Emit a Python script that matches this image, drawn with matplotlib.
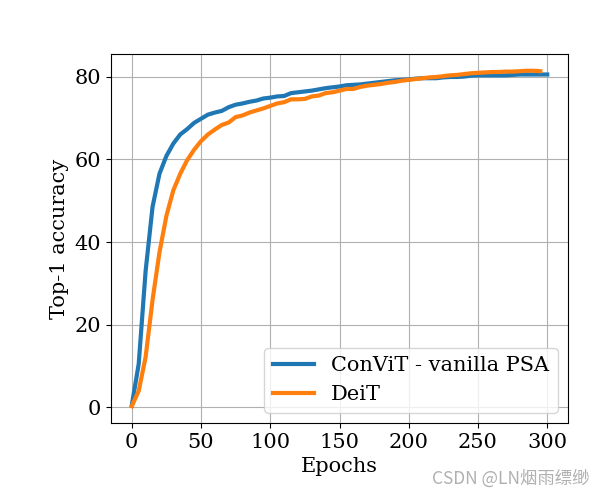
import matplotlib
matplotlib.use("Agg")
import matplotlib.pyplot as plt

plt.rcParams['font.family'] = 'DejaVu Serif'

epochs_convit = list(range(0, 301, 5))
acc_convit = [0.5, 10.5, 33.0, 48.5, 56.5, 60.8, 63.8, 66.0, 67.3, 68.8,
              69.8, 70.8, 71.3, 71.7, 72.6, 73.2, 73.5, 73.9, 74.2, 74.7,
              74.9, 75.2, 75.3, 76.0, 76.2, 76.4, 76.6, 76.9, 77.2, 77.4,
              77.6, 77.9, 78.0, 78.1, 78.3, 78.5, 78.7, 78.9, 79.1, 79.2,
              79.3, 79.5, 79.6, 79.6, 79.6, 79.8, 79.9, 79.9, 80.0, 80.2,
              80.3, 80.3, 80.3, 80.3, 80.3, 80.4, 80.5, 80.5, 80.5, 80.5,
              80.5]

epochs_deit = list(range(0, 296, 5))
acc_deit = [0.3, 4.0, 12.2, 26.0, 37.5, 46.3, 52.5, 56.5, 59.8, 62.3,
            64.4, 66.0, 67.2, 68.3, 68.9, 70.2, 70.6, 71.3, 71.8, 72.3,
            72.9, 73.5, 73.8, 74.5, 74.5, 74.6, 75.2, 75.4, 76.0, 76.2,
            76.6, 77.0, 77.0, 77.5, 77.8, 78.0, 78.2, 78.5, 78.7, 79.0,
            79.2, 79.4, 79.6, 79.8, 79.9, 80.1, 80.3, 80.4, 80.6, 80.8,
            80.9, 81.0, 81.1, 81.1, 81.2, 81.2, 81.3, 81.4, 81.4, 81.3]

labels = ["ConViT - vanilla PSA", "DeiT"]
xticks = [0, 50, 100, 150, 200, 250, 300]
yticks = [0, 20, 40, 60, 80]

fig = plt.figure(figsize=(6.05, 4.94), dpi=100)
ax = fig.add_axes([111/605, 1 - 423/494, (568-111)/605, (423-54)/494])
ax.plot(epochs_convit, acc_convit, color='#1f77b4', lw=3, label=labels[0])
ax.plot(epochs_deit, acc_deit, color='#ff7f0e', lw=3, label=labels[1])
ax.set_xticks(xticks)
ax.set_yticks(yticks)
ax.tick_params(labelsize=15)
ax.set_xlabel("Epochs", fontsize=15)
ax.set_ylabel("Top-1 accuracy", fontsize=15)
ax.grid(True)
ax.legend(loc='lower right', fontsize=15)

fig.text(0.975, 0.012, "CSDN @LN烟雨缥缈", ha='right', va='bottom', fontsize=12.5,
         color='#b0b0b0', family=['Noto Sans CJK SC', 'DejaVu Sans'])

fig.savefig("out.png", dpi=100)
